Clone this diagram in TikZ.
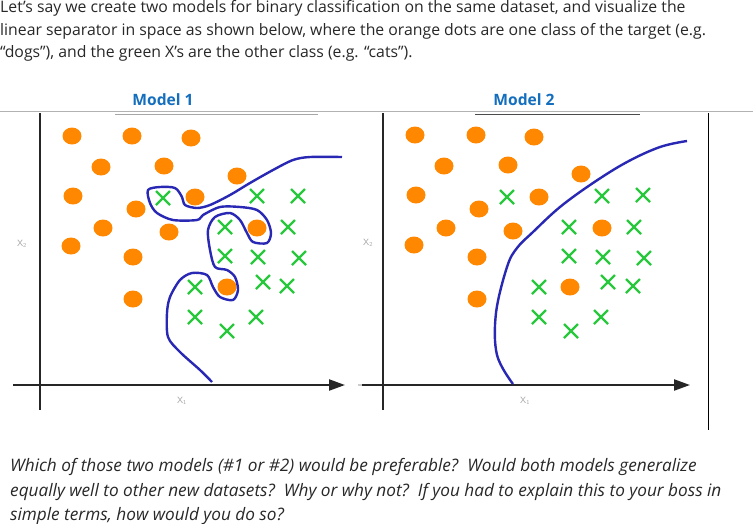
\documentclass[tikz,border=0pt]{standalone}
\usepackage{fontspec}
\setmainfont{Open Sans}
\usetikzlibrary{arrows.meta}
\definecolor{dotor}{RGB}{255,136,0}
\definecolor{xgreen}{RGB}{40,200,60}
\definecolor{curveb}{RGB}{40,40,180}
\definecolor{titleb}{RGB}{20,110,190}
\definecolor{txt}{RGB}{40,40,40}
\tikzset{
  body/.style={anchor=base west,inner sep=0pt,font=\fontsize{15.8}{18}\selectfont,text=txt},
  qbody/.style={body,font=\fontsize{17.2}{19}\selectfont\itshape},
  mtitle/.style={inner sep=0pt,font=\fontsize{15.6}{18}\selectfont\bfseries,text=titleb},
  axlab/.style={inner sep=0pt,font=\fontsize{9}{10}\selectfont\sffamily,text=gray!70},
  axis/.style={line width=2.2pt,black!85},
  bound/.style={line width=2.4pt,curveb,line join=round},
  xmark/.style={xgreen,line width=2.2pt},
}
\newcommand{\mydot}[2]{\fill[dotor] (#1,#2) ellipse (9.5 and 8.5);}
\newcommand{\myx}[2]{\draw[xmark] (#1-7,#2-7) -- (#1+7,#2+7) (#1-7,#2+7) -- (#1+7,#2-7);}
\begin{document}
\begin{tikzpicture}[x=1pt,y=-1pt]
\useasboundingbox (0,0) rectangle (753,523);
\fill[white] (0,0) rectangle (753,523);
% intro text
\node[body] (t1) at (0,12) {Let’s say we create two models for binary classification on the same dataset, and visualize the};
\node[body] (t2) at (0,35) {linear separator in space as shown below, where the orange dots are one class of the target (e.g.};
\node[body] (t3) at (0,57) {“dogs”), and the green X’s are the other class (e.g. “cats”).};
\draw[gray!60, line width=0.6pt] (0,111) -- (753,111);
% titles
\node[mtitle] (m1) at (163,100) {Model 1};
\node[mtitle] (m2) at (524,100) {Model 2};
\draw[gray!70, line width=0.8pt] (115,114) -- (318,114);
\draw[black!70, line width=1pt] (475,114) -- (640,114);
\draw[black, line width=1pt] (708,113) -- (708,430);
% model 1 axes
\draw[axis] (40,113) -- (40,410);
\draw[axis,-{Triangle[length=16pt,width=11pt]}] (13,385) -- (345,385);
\draw[line width=2pt,gray!40] (358,385) -- (380,385);
\node[axlab] (x11) at (182,401) {X\textsubscript{1}};
\node[axlab] (x12) at (22,244) {X\textsubscript{2}};
% model 2 axes
\draw[axis] (383,113) -- (383,410);
\draw[axis,-{Triangle[length=16pt,width=11pt]}] (362,385) -- (690,385);
\node[axlab] (x21) at (525,401) {X\textsubscript{1}};
\node[axlab] (x22) at (368,243) {X\textsubscript{2}};
% model 1 points
\foreach \a/\b in {72/136,132/136,191/138,101/167,164/166,237/176,73/196,195/197,136/209,103/228,169/232,257/228,71/246,133/257,227/287,133/299} {\mydot{\a}{\b}}
\foreach \a/\b in {163/198,257/196,298/196,225/227,288/227,225/256,258/257,299/258,195/287,263/282,287/286,195/317,256/317,227/331} {\myx{\a}{\b}}
\draw[bound] plot[smooth,tension=0.5] coordinates {(212,382) (200,370) (180,352) (168,337) (167,313) (170,297) (180,280) (192,273) (207,275) (213,287) (220,297) (233,300) (238,290) (235,277) (227,270) (215,267) (210,250) (208,230) (215,217) (230,213) (240,220) (247,233) (253,242) (267,243) (271,233) (267,220) (257,210) (240,207) (220,207) (203,215) (197,220) (173,220) (157,213) (150,203) (148,190) (160,187) (175,188) (182,197) (185,205) (197,208) (210,205) (230,195) (250,183) (273,170) (293,160) (310,157) (342,157)};
% model 2 points
\foreach \a/\b in {415/135,476/135,534/137,444/166,508/165,581/174,416/195,539/197,479/209,446/228,513/231,602/228,414/245,477/257,570/287,477/299} {\mydot{\a}{\b}}
\foreach \a/\b in {507/197,602/196,643/195,569/227,634/227,569/256,603/257,644/258,539/287,608/282,633/286,539/317,601/317,571/331} {\myx{\a}{\b}}
\draw[bound] plot[smooth,tension=0.6] coordinates {(513,384) (497,355) (496,313) (507,267) (517,248) (533,232) (560,207) (593,183) (627,162) (660,147) (687,141)};
% question
\node[qbody] (q1) at (10,471) {Which of those two models (\#1 or \#2) would be preferable?\ \ Would both models generalize};
\node[qbody] (q2) at (10,496) {equally well to other new datasets?\ \ Why or why not?\ \ If you had to explain this to your boss in};
\node[qbody] (q3) at (10,520) {simple terms, how would you do so?};
\end{tikzpicture}
\end{document}
